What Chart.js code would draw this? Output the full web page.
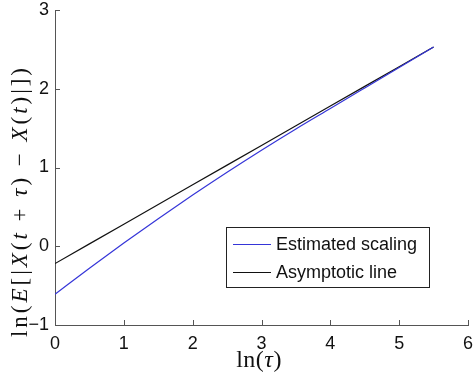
<!DOCTYPE html>
<html lang="en">
<head>
  <meta charset="UTF-8">
  <title>Scaling plot</title>
  <script src="https://cdn.jsdelivr.net/npm/chart.js"></script>
  <style>
    html, body { margin: 0; padding: 0; background: #fff; }
    #wrap { width: 474px; height: 375px; }
  </style>
</head>
<body>
  <div id="wrap"><canvas id="chart" width="474" height="375"></canvas></div>
  <script>
    // data
    const tauLog = [0, 0.5, 1, 1.5, 2, 2.5, 3, 3.5, 4, 4.5, 5, 5.5];
    const estimated = [-0.61, -0.28, 0.04, 0.35, 0.65, 0.94, 1.22, 1.49, 1.75, 2.01, 2.27, 2.53];
    const asymptotic = [-0.22, 0.03, 0.28, 0.53, 0.78, 1.03, 1.28, 1.53, 1.78, 2.03, 2.28, 2.53];
    const xTicks = [0, 1, 2, 3, 4, 5, 6];
    const yTicks = [-1, 0, 1, 2, 3];
    const seriesNames = ['Estimated scaling', 'Asymptotic line'];

    const toPts = ys => tauLog.map((x, i) => ({ x: x, y: ys[i] }));
    const minus = v => String(v).replace('-', '\u2212');

    const SANS = '"Liberation Sans", Arial, sans-serif';
    const SERIF = '"Liberation Serif", "Times New Roman", serif';

    // pieces of the y title: [text, italic]
    const yTitle = [['ln(', false], ['E', true], ['[|', false], ['X', true], ['(', false], ['t', true],
      [' + ', false], ['\u03c4', true], [')', false], [' \u2212 ', false], ['X', true], ['(', false],
      ['t', true], [')|])', false]];

    function setFont(ctx, p, size, sp) {
      ctx.font = (p[1] ? 'italic ' : '') + size + 'px ' + SERIF;
      ctx.letterSpacing = sp + 'px';
    }

    function piecesWidth(ctx, pieces, size, sp) {
      let w = 0;
      pieces.forEach(p => { setFont(ctx, p, size, sp); w += ctx.measureText(p[0]).width; });
      return w;
    }

    function drawPieces(ctx, pieces, size, sp) {
      let x = -piecesWidth(ctx, pieces, size, sp) / 2;
      pieces.forEach(p => {
        setFont(ctx, p, size, sp);
        ctx.fillText(p[0], x, 0);
        x += ctx.measureText(p[0]).width;
      });
      ctx.letterSpacing = '0px';
    }

    const decor = {
      id: 'decor',
      afterDraw(chart) {
        const ctx = chart.ctx;
        const xs = chart.scales.x, ys = chart.scales.y;
        const a = chart.chartArea;
        ctx.save();
        // inward ticks
        ctx.strokeStyle = '#555';
        ctx.lineWidth = 1;
        ctx.beginPath();
        xTicks.forEach(t => {
          const px = Math.round(xs.getPixelForValue(t)) + 0.5;
          ctx.moveTo(px, a.bottom); ctx.lineTo(px, a.bottom - 5);
        });
        yTicks.forEach(t => {
          const py = Math.round(ys.getPixelForValue(t)) + 0.5;
          ctx.moveTo(a.left, py); ctx.lineTo(a.left + 5, py);
        });
        ctx.stroke();

        // legend box
        const lx = 226, ly = 227, lw = 203, lh = 60;
        ctx.fillStyle = '#fff';
        ctx.fillRect(lx, ly, lw, lh);
        ctx.strokeStyle = '#222';
        ctx.strokeRect(lx + 0.5, ly + 0.5, lw, lh);
        ctx.font = '18px ' + SANS;
        ctx.textBaseline = 'middle';
        chart.data.datasets.forEach((ds, i) => {
          const ry = ly + 17 + i * 28;
          ctx.strokeStyle = ds.borderColor;
          ctx.lineWidth = 1;
          ctx.beginPath();
          ctx.moveTo(lx + 7, ry + 0.5); ctx.lineTo(lx + 45, ry + 0.5);
          ctx.stroke();
          ctx.fillStyle = '#111';
          ctx.fillText(ds.label, lx + 50, ry + 1);
        });

        // axis titles
        ctx.fillStyle = '#111';
        ctx.textBaseline = 'alphabetic';
        ctx.save();
        ctx.translate(259, 367);
        drawPieces(ctx, [['ln(', false], ['\u03c4', true], [')', false]], 24, 0.5);
        ctx.restore();

        ctx.save();
        ctx.translate(27, 201);
        ctx.rotate(-Math.PI / 2);
        const nChars = yTitle.reduce((n, p) => n + p[0].length, 0);
        const sp = Math.max(0, (272 - piecesWidth(ctx, yTitle, 23, 0)) / nChars);
        drawPieces(ctx, yTitle, 23, sp);
        ctx.restore();
        ctx.restore();
      }
    };

    new Chart(document.getElementById('chart'), {
      type: 'line',
      data: {
        datasets: [{
          label: seriesNames[0],
          data: toPts(estimated),
          borderColor: '#3535d8',
          borderWidth: 1.2,
          pointRadius: 0,
          fill: false,
          tension: 0.4,
          cubicInterpolationMode: 'monotone'
        }, {
          label: seriesNames[1],
          data: toPts(asymptotic),
          borderColor: '#111111',
          borderWidth: 1.2,
          pointRadius: 0,
          fill: false,
          tension: 0
        }]
      },
      options: {
        responsive: false,
        animation: false,
        layout: { padding: { top: 10, right: 6, left: 0, bottom: 0 } },
        plugins: { legend: { display: false }, tooltip: { enabled: false } },
        scales: {
          x: {
            type: 'linear', min: 0, max: 6,
            afterBuildTicks: s => { s.ticks = xTicks.map(v => ({ value: v })); },
            afterFit: s => { s.height = 50; s.paddingLeft = 0; s.paddingRight = 0; },
            grid: { display: false, drawTicks: false },
            border: { color: '#555', width: 1 },
            ticks: { color: '#111', padding: 8, font: { family: SANS, size: 18 }, callback: v => minus(v), maxRotation: 0 }
          },
          y: {
            type: 'linear', min: -1, max: 3,
            afterBuildTicks: s => { s.ticks = yTicks.map(v => ({ value: v })); },
            afterFit: s => { s.width = 55; s.paddingTop = 0; s.paddingBottom = 0; },
            grid: { display: false, drawTicks: false },
            border: { color: '#555', width: 1 },
            ticks: { color: '#111', padding: 6, font: { family: SANS, size: 18 }, callback: v => minus(v) }
          }
        }
      },
      plugins: [decor]
    });
  </script>
</body>
</html>
